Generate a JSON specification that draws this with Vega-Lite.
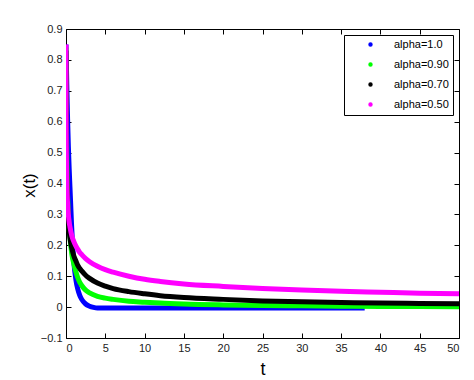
{
  "$schema": "https://vega.github.io/schema/vega-lite/v6.json",
  "width": 393,
  "height": 309,
  "autosize": {"type": "none"},
  "padding": {"left": 66, "top": 29, "right": 15, "bottom": 42},
  "background": "white",
  "config": {
    "view": {"stroke": "#000000", "strokeWidth": 1},
    "font": "Liberation Sans",
    "axis": {
      "grid": false,
      "domainColor": "#000000",
      "tickColor": "#000000",
      "labelFont": "Liberation Sans",
      "labelFontSize": 11,
      "labelColor": "#222222",
      "titleFont": "Liberation Sans",
      "titleFontWeight": "normal",
      "titleColor": "#000000"
    }
  },
  "data": {
    "values": [
      {"s": "alpha=1.0", "t": 0, "x": 0.85},
      {"s": "alpha=1.0", "t": 0.1, "x": 0.72},
      {"s": "alpha=1.0", "t": 0.2, "x": 0.61},
      {"s": "alpha=1.0", "t": 0.3, "x": 0.52},
      {"s": "alpha=1.0", "t": 0.4, "x": 0.45},
      {"s": "alpha=1.0", "t": 0.5, "x": 0.39},
      {"s": "alpha=1.0", "t": 0.6, "x": 0.33},
      {"s": "alpha=1.0", "t": 0.7, "x": 0.27},
      {"s": "alpha=1.0", "t": 0.8, "x": 0.22},
      {"s": "alpha=1.0", "t": 0.9, "x": 0.18},
      {"s": "alpha=1.0", "t": 1, "x": 0.145},
      {"s": "alpha=1.0", "t": 1.25, "x": 0.09},
      {"s": "alpha=1.0", "t": 1.5, "x": 0.058},
      {"s": "alpha=1.0", "t": 1.75, "x": 0.038},
      {"s": "alpha=1.0", "t": 2, "x": 0.025},
      {"s": "alpha=1.0", "t": 2.5, "x": 0.01},
      {"s": "alpha=1.0", "t": 3, "x": 0.003},
      {"s": "alpha=1.0", "t": 3.5, "x": -0.001},
      {"s": "alpha=1.0", "t": 4, "x": -0.003},
      {"s": "alpha=1.0", "t": 6, "x": -0.003},
      {"s": "alpha=1.0", "t": 10, "x": -0.003},
      {"s": "alpha=1.0", "t": 20, "x": -0.003},
      {"s": "alpha=1.0", "t": 30, "x": -0.003},
      {"s": "alpha=1.0", "t": 38, "x": -0.003},

      {"s": "alpha=0.90", "t": 0, "x": 0.84},
      {"s": "alpha=0.90", "t": 0.02, "x": 0.72},
      {"s": "alpha=0.90", "t": 0.05, "x": 0.6},
      {"s": "alpha=0.90", "t": 0.1, "x": 0.48},
      {"s": "alpha=0.90", "t": 0.15, "x": 0.41},
      {"s": "alpha=0.90", "t": 0.2, "x": 0.36},
      {"s": "alpha=0.90", "t": 0.3, "x": 0.3},
      {"s": "alpha=0.90", "t": 0.4, "x": 0.255},
      {"s": "alpha=0.90", "t": 0.5, "x": 0.225},
      {"s": "alpha=0.90", "t": 0.75, "x": 0.17},
      {"s": "alpha=0.90", "t": 1, "x": 0.14},
      {"s": "alpha=0.90", "t": 1.25, "x": 0.115},
      {"s": "alpha=0.90", "t": 1.5, "x": 0.095},
      {"s": "alpha=0.90", "t": 1.75, "x": 0.08},
      {"s": "alpha=0.90", "t": 2, "x": 0.07},
      {"s": "alpha=0.90", "t": 2.5, "x": 0.055},
      {"s": "alpha=0.90", "t": 3, "x": 0.046},
      {"s": "alpha=0.90", "t": 4, "x": 0.035},
      {"s": "alpha=0.90", "t": 5, "x": 0.029},
      {"s": "alpha=0.90", "t": 6, "x": 0.025},
      {"s": "alpha=0.90", "t": 8, "x": 0.019},
      {"s": "alpha=0.90", "t": 10, "x": 0.016},
      {"s": "alpha=0.90", "t": 12, "x": 0.013},
      {"s": "alpha=0.90", "t": 15, "x": 0.01},
      {"s": "alpha=0.90", "t": 20, "x": 0.007},
      {"s": "alpha=0.90", "t": 25, "x": 0.005},
      {"s": "alpha=0.90", "t": 30, "x": 0.004},
      {"s": "alpha=0.90", "t": 35, "x": 0.003},
      {"s": "alpha=0.90", "t": 40, "x": 0.002},
      {"s": "alpha=0.90", "t": 45, "x": 0.002},
      {"s": "alpha=0.90", "t": 50, "x": 0.001},

      {"s": "alpha=0.70", "t": 0, "x": 0.83},
      {"s": "alpha=0.70", "t": 0.02, "x": 0.68},
      {"s": "alpha=0.70", "t": 0.05, "x": 0.55},
      {"s": "alpha=0.70", "t": 0.1, "x": 0.43},
      {"s": "alpha=0.70", "t": 0.15, "x": 0.37},
      {"s": "alpha=0.70", "t": 0.2, "x": 0.33},
      {"s": "alpha=0.70", "t": 0.3, "x": 0.28},
      {"s": "alpha=0.70", "t": 0.4, "x": 0.25},
      {"s": "alpha=0.70", "t": 0.5, "x": 0.225},
      {"s": "alpha=0.70", "t": 0.75, "x": 0.19},
      {"s": "alpha=0.70", "t": 1, "x": 0.165},
      {"s": "alpha=0.70", "t": 1.25, "x": 0.15},
      {"s": "alpha=0.70", "t": 1.5, "x": 0.135},
      {"s": "alpha=0.70", "t": 1.75, "x": 0.125},
      {"s": "alpha=0.70", "t": 2, "x": 0.117},
      {"s": "alpha=0.70", "t": 2.5, "x": 0.103},
      {"s": "alpha=0.70", "t": 3, "x": 0.093},
      {"s": "alpha=0.70", "t": 4, "x": 0.078},
      {"s": "alpha=0.70", "t": 5, "x": 0.068},
      {"s": "alpha=0.70", "t": 6, "x": 0.06},
      {"s": "alpha=0.70", "t": 8, "x": 0.05},
      {"s": "alpha=0.70", "t": 10, "x": 0.043},
      {"s": "alpha=0.70", "t": 12, "x": 0.037},
      {"s": "alpha=0.70", "t": 15, "x": 0.031},
      {"s": "alpha=0.70", "t": 20, "x": 0.025},
      {"s": "alpha=0.70", "t": 25, "x": 0.02},
      {"s": "alpha=0.70", "t": 30, "x": 0.017},
      {"s": "alpha=0.70", "t": 35, "x": 0.015},
      {"s": "alpha=0.70", "t": 40, "x": 0.013},
      {"s": "alpha=0.70", "t": 45, "x": 0.012},
      {"s": "alpha=0.70", "t": 50, "x": 0.011},

      {"s": "alpha=0.50", "t": 0, "x": 0.85},
      {"s": "alpha=0.50", "t": 0.02, "x": 0.62},
      {"s": "alpha=0.50", "t": 0.05, "x": 0.5},
      {"s": "alpha=0.50", "t": 0.1, "x": 0.41},
      {"s": "alpha=0.50", "t": 0.15, "x": 0.365},
      {"s": "alpha=0.50", "t": 0.2, "x": 0.335},
      {"s": "alpha=0.50", "t": 0.3, "x": 0.3},
      {"s": "alpha=0.50", "t": 0.4, "x": 0.275},
      {"s": "alpha=0.50", "t": 0.5, "x": 0.26},
      {"s": "alpha=0.50", "t": 0.75, "x": 0.23},
      {"s": "alpha=0.50", "t": 1, "x": 0.212},
      {"s": "alpha=0.50", "t": 1.25, "x": 0.198},
      {"s": "alpha=0.50", "t": 1.5, "x": 0.187},
      {"s": "alpha=0.50", "t": 1.75, "x": 0.177},
      {"s": "alpha=0.50", "t": 2, "x": 0.17},
      {"s": "alpha=0.50", "t": 2.5, "x": 0.157},
      {"s": "alpha=0.50", "t": 3, "x": 0.147},
      {"s": "alpha=0.50", "t": 4, "x": 0.132},
      {"s": "alpha=0.50", "t": 5, "x": 0.121},
      {"s": "alpha=0.50", "t": 6, "x": 0.113},
      {"s": "alpha=0.50", "t": 8, "x": 0.1},
      {"s": "alpha=0.50", "t": 10, "x": 0.09},
      {"s": "alpha=0.50", "t": 12, "x": 0.083},
      {"s": "alpha=0.50", "t": 15, "x": 0.075},
      {"s": "alpha=0.50", "t": 20, "x": 0.067},
      {"s": "alpha=0.50", "t": 25, "x": 0.06},
      {"s": "alpha=0.50", "t": 30, "x": 0.055},
      {"s": "alpha=0.50", "t": 35, "x": 0.051},
      {"s": "alpha=0.50", "t": 40, "x": 0.048},
      {"s": "alpha=0.50", "t": 45, "x": 0.045},
      {"s": "alpha=0.50", "t": 50, "x": 0.043}
    ]
  },
  "layer": [
    {
      "mark": {"type": "line", "strokeWidth": 5, "interpolate": "monotone", "clip": true},
      "encoding": {
        "x": {
          "field": "t", "type": "quantitative",
          "scale": {"domain": [0, 50], "nice": false, "zero": false},
          "axis": {
            "values": [0, 5, 10, 15, 20, 25, 30, 35, 40, 45, 50],
            "tickSize": -5, "labelPadding": 9, "domain": false,
            "title": "t", "titleFontSize": 18,
            "titleX": 196.5, "titleY": 36, "titleAlign": "center", "titleBaseline": "alphabetic"
          }
        },
        "y": {
          "field": "x", "type": "quantitative",
          "scale": {"domain": [-0.1, 0.9], "nice": false, "zero": false},
          "axis": {
            "values": [-0.1, 0, 0.1, 0.2, 0.3, 0.4, 0.5, 0.6, 0.7, 0.8, 0.9],
            "tickSize": -5, "labelPadding": 9, "domain": false,
            "labelExpr": "datum.value == 0 ? '0' : format(datum.value, '.1f')",
            "title": "x(t)", "titleFontSize": 17, "titleAngle": -90,
            "titleX": -32, "titleY": 156, "titleAlign": "center", "titleBaseline": "alphabetic"
          }
        },
        "color": {
          "field": "s", "type": "nominal",
          "scale": {
            "domain": ["alpha=1.0", "alpha=0.90", "alpha=0.70", "alpha=0.50"],
            "range": ["#0000ff", "#00ff00", "#000000", "#ff00ff"]
          },
          "legend": {
            "title": null, "orient": "none", "legendX": 278, "legendY": 6,
            "symbolType": "circle", "symbolSize": 5,
            "symbolStrokeWidth": 2.2,
            "labelFont": "Liberation Sans", "labelFontSize": 11, "labelColor": "#000000",
            "labelOffset": 18, "symbolOffset": 17, "rowPadding": 7,
            "padding": 4, "fillColor": "#ffffff", "strokeColor": "#000000",
            "labelExpr": "datum.label + '\u00a0\u00a0'"
          }
        }
      }
    },
    {
      "mark": {"type": "point", "opacity": 0},
      "encoding": {
        "x": {
          "field": "t", "type": "quantitative",
          "scale": {"domain": [0, 50], "nice": false, "zero": false},
          "axis": {"orient": "top", "values": [0, 5, 10, 15, 20, 25, 30, 35, 40, 45, 50], "tickSize": -5, "labels": false, "domain": false, "title": null}
        },
        "y": {
          "field": "x", "type": "quantitative",
          "scale": {"domain": [-0.1, 0.9], "nice": false, "zero": false},
          "axis": {"orient": "right", "values": [-0.1, 0, 0.1, 0.2, 0.3, 0.4, 0.5, 0.6, 0.7, 0.8, 0.9], "tickSize": -5, "labels": false, "domain": false, "title": null}
        }
      }
    }
  ],
  "resolve": {"axis": {"x": "independent", "y": "independent"}}
}
